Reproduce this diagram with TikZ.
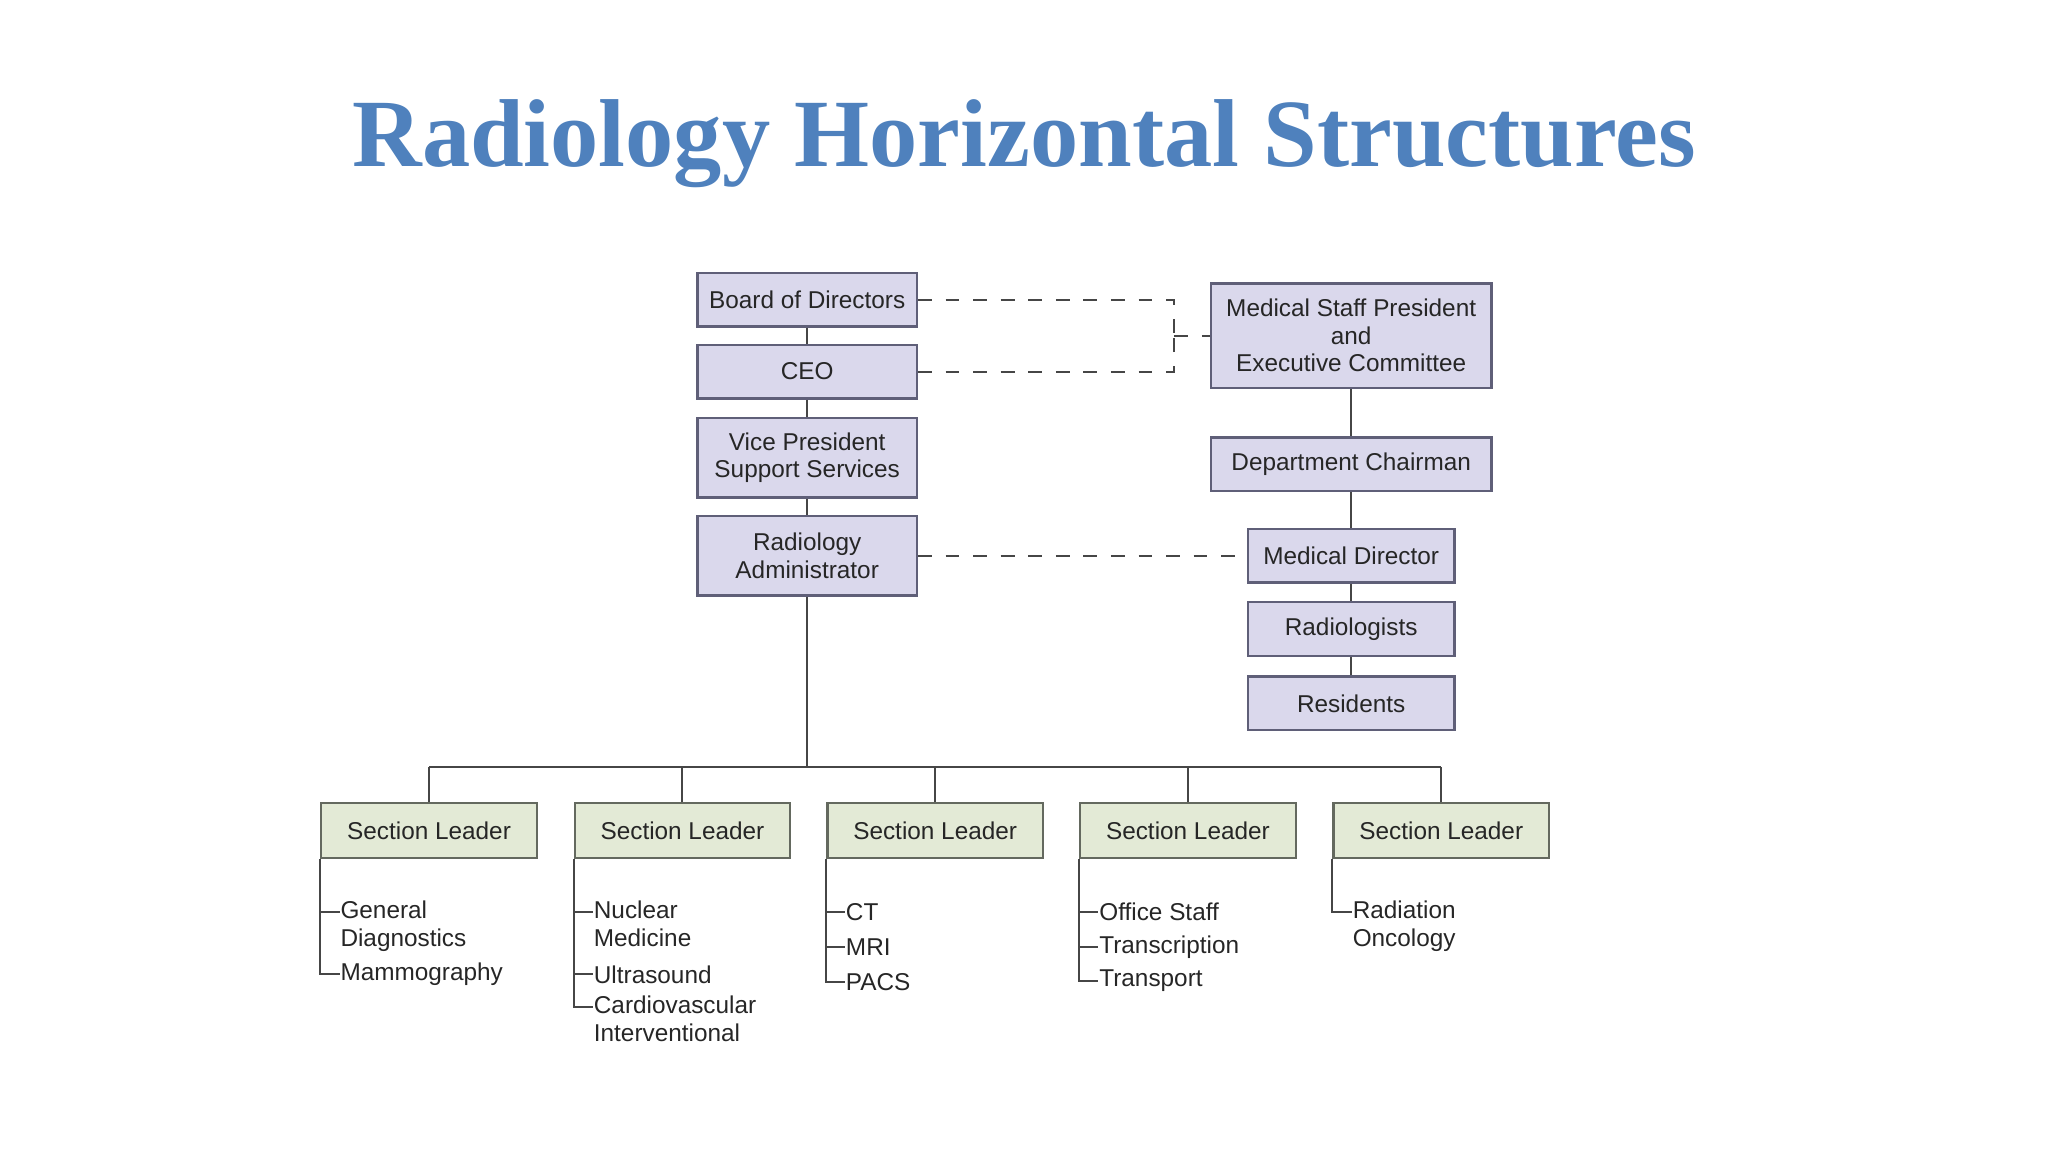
\documentclass[tikz,border=0pt]{standalone}
\usepackage{fontspec}
\setmainfont{Liberation Sans}
\newfontfamily\titlefont{Liberation Serif}
\definecolor{titleblue}{RGB}{79,129,189}
\definecolor{lav}{RGB}{218,216,236}
\definecolor{lavborder}{RGB}{95,95,120}
\definecolor{grn}{RGB}{227,234,214}
\definecolor{grnborder}{RGB}{100,105,95}
\definecolor{ln}{RGB}{70,70,70}
\begin{document}
\begin{tikzpicture}[x=0.01cm,y=-0.01cm,
  box/.style={draw=lavborder,fill=lav,line width=0.5pt,inner sep=0pt,align=center,font=\fontsize{5.3}{6}\selectfont,text=black!85},
  gbox/.style={draw=grnborder,fill=grn,line width=0.5pt,inner sep=0pt,minimum width=165*0.01cm,minimum height=42*0.01cm,font=\fontsize{5.3}{6}\selectfont,text=black!85},
  item/.style={inner sep=0pt,anchor=west,align=left,font=\fontsize{5.3}{6}\selectfont,text=black!85},
  conn/.style={draw=ln,line width=0.45pt},
  dashline/.style={draw=ln,line width=0.45pt,dashed}]
\useasboundingbox (0,0) rectangle (1568,882);
\node[font=\titlefont\bfseries\fontsize{21}{24}\selectfont,text=titleblue] (title) at (784,110) {Radiology Horizontal Structures};
\node[box,minimum width=168*0.01cm,minimum height=41*0.01cm] (board) at (618,229.5) {Board of Directors};
\node[box,minimum width=168*0.01cm,minimum height=41*0.01cm] (ceo) at (618,284.5) {CEO};
\node[box,minimum width=168*0.01cm,minimum height=61*0.01cm] (vp) at (618,350.5) {Vice President\\Support Services};
\node[box,minimum width=168*0.01cm,minimum height=61*0.01cm] (ra) at (618,425.5) {Radiology\\Administrator};
\node[box,minimum width=215*0.01cm,minimum height=80*0.01cm] (ms) at (1034.5,257) {Medical Staff President\\and\\Executive Committee};
\node[box,minimum width=215*0.01cm,minimum height=41*0.01cm] (dc) at (1034.5,355.5) {Department Chairman};
\node[box,minimum width=158*0.01cm,minimum height=41*0.01cm] (md) at (1034.5,425.5) {Medical Director};
\node[box,minimum width=158*0.01cm,minimum height=41*0.01cm] (rad) at (1034.5,481.5) {Radiologists};
\node[box,minimum width=158*0.01cm,minimum height=41*0.01cm] (res) at (1034.5,538.5) {Residents};
\draw[conn] (board) -- (ceo); \draw[conn] (ceo) -- (vp); \draw[conn] (vp) -- (ra);
\draw[conn] (ms) -- (dc); \draw[conn] (dc) -- (md); \draw[conn] (md) -- (rad); \draw[conn] (rad) -- (res);
\coordinate (dj) at (899,257);
\draw[dashline] (board.east) -| (dj); \draw[dashline] (ceo.east) -| (dj); \draw[dashline] (dj) -- (ms.west);
\draw[dashline] (ra.east) -- (md.west);
\coordinate (bus) at (618,587);
\foreach \n/\x in {s1/328.5,s2/522.5,s3/716,s4/909.5,s5/1103.5}{
  \node[gbox] (\n) at (\x,636) {Section Leader};
  \draw[conn] (\n.north) -- (\x,587);
}
\draw[conn] (s1.north |- bus) -- (s5.north |- bus);
\draw[conn] (ra) -- (bus);
% column 1
\node[item,anchor=north west] (a1) at (260,689) {General\\Diagnostics};
\node[item] (a2) at (260,746) {Mammography};
\draw[conn] (s1.south west) |- (a2.west); \draw[conn] (s1.south west |- 698,698) -- (a1.west |- 698,698);
% column 2
\node[item,anchor=north west] (b1) at (454,689) {Nuclear\\Medicine};
\node[item] (b2) at (454,746) {Ultrasound};
\node[item,anchor=north west] (b3) at (454,762) {Cardiovascular\\Interventional};
\draw[conn] (s2.south west) |- (b3.west |- 771,771);
\draw[conn] (s2.south west |- b2) -- (b2.west); \draw[conn] (s2.south west |- 698,698) -- (b1.west |- 698,698);
% column 3
\node[item] (c1) at (647,698) {CT};
\node[item] (c2) at (647,725) {MRI};
\node[item] (c3) at (647,752) {PACS};
\draw[conn] (s3.south west) |- (c3.west); \draw[conn] (s3.south west |- c1) -- (c1.west); \draw[conn] (s3.south west |- c2) -- (c2.west);
% column 4
\node[item] (d1) at (841,698) {Office Staff};
\node[item] (d2) at (841,725) {Transcription};
\node[item] (d3) at (841,751) {Transport};
\draw[conn] (s4.south west) |- (d3.west); \draw[conn] (s4.south west |- d1) -- (d1.west); \draw[conn] (s4.south west |- d2) -- (d2.west);
% column 5
\node[item,anchor=north west] (e1) at (1035,689) {Radiation\\Oncology};
\draw[conn] (s5.south west) |- (e1.west |- 698,698);
\end{tikzpicture}
\end{document}
